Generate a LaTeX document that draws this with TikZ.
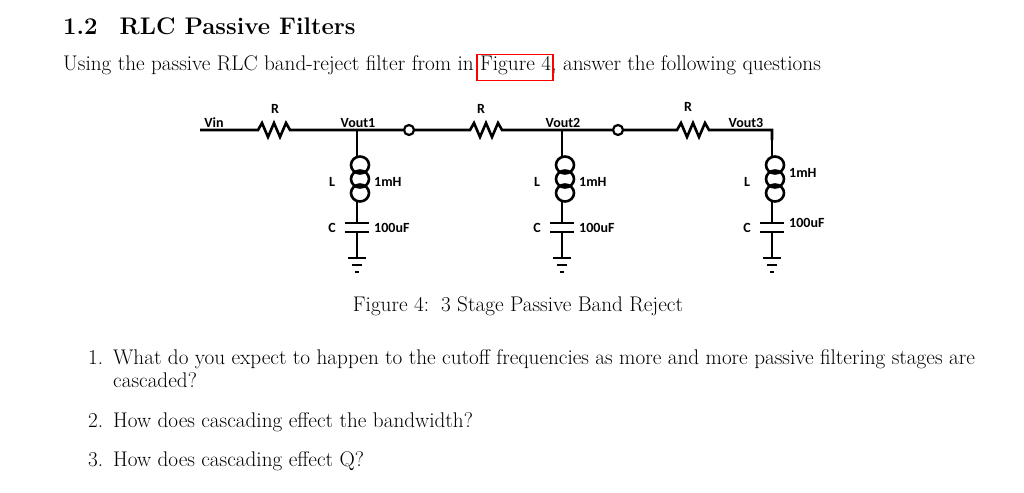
\documentclass[tikz,border=0pt]{standalone}
\usepackage{fontspec}
\newfontfamily\carl{Carlito}
\begin{document}
\begin{tikzpicture}[x=1pt,y=-1pt,
 w/.style={line width=2.6pt},
 lab/.style={font=\carl\bfseries\fontsize{14}{15}\selectfont,inner sep=0pt},
 txt/.style={font=\fontsize{21.2}{24}\selectfont,inner sep=0pt,anchor=base west}]
\useasboundingbox (0,0) rectangle (1024,492);
\node[txt,font=\bfseries\fontsize{24}{28}\selectfont] (h) at (63,35) {1.2\hspace{22pt}RLC Passive Filters};
\node[txt] (p1) at (63,71) {Using the passive RLC band-reject filter from in};
\node[txt,anchor=base west,xshift=6pt] (f4) at (p1.base east) {Figure 4};
\node[txt,anchor=base west] (p2) at (f4.base east) {, answer the following questions};
\draw[red,line width=1.5pt] ([xshift=-3pt,yshift=-5pt]f4.south west) rectangle ([xshift=2pt,yshift=2pt]f4.north east);
\node[txt,anchor=base] (cap) at (518,311) {Figure 4:\hspace{12pt}3 Stage Passive Band Reject};
\node[txt] (n1) at (88,364) {1.};
\node[txt] (t1) at (113,364) {What do you expect to happen to the cutoff frequencies as more and more passive filtering stages are};
\node[txt] (t1b) at (113,387) {cascaded?};
\node[txt] (n2) at (88,427) {2.};
\node[txt] (t2) at (113,427) {How does cascading effect the bandwidth?};
\node[txt] (n3) at (88,466) {3.};
\node[txt] (t3) at (113,466) {How does cascading effect Q?};
% circuit
\coordinate (in) at (200,130);
\node[lab] at (214,123) {Vin};
\newcommand\res[1]{ -- (#1,130) -- ++(4,-7) -- ++(6,14) -- ++(6,-14) -- ++(6,14) -- ++(6,-14) -- ++(4,7) }
\newcommand\stage[3]{%
 \draw[w] (#1,130) -- (#1,156);
 \foreach \yy in {165,179,193} \draw[w] (#1+3,\yy) ellipse (9 and 8.5);
 \draw[w] (#1,202) -- (#1,223);
 \draw[w] (#1-12,223) -- (#1+12,223) (#1-12,232) -- (#1+12,232);
 \draw[w] (#1,232) -- (#1,258);
 \draw[w] (#1-9,258) -- (#1+9,258) (#1-5,265) -- (#1+5,265);
 \draw[w] (#1-2,272) -- (#1+2,272);
 \node[lab] at (#1-25,182) {L};
 \node[lab] at (#1-25,228) {C};
 \node[lab,anchor=west] at (#1+17,#2) {1mH};
 \node[lab,anchor=west] at (#1+17,#3) {100uF};}
\draw[w] (in) \res{258} -- (403,130);
\draw[line width=2.2pt,fill=white] (409,130) circle (5);
\draw[w] (414,130) \res{470} -- (612,130);
\draw[line width=2.2pt,fill=white] (618,130) circle (5);
\draw[w] (623,130) \res{677} -- (772,130) -- (772,140);
\stage{357}{182}{228}
\stage{562}{182}{228}
\stage{772}{173}{223}
\node[lab] at (275,109) {R};
\node[lab] at (481,109) {R};
\node[lab] at (688,107) {R};
\node[lab] at (358,123) {Vout1};
\node[lab] at (563,123) {Vout2};
\node[lab] at (746,123) {Vout3};
\end{tikzpicture}
\end{document}
